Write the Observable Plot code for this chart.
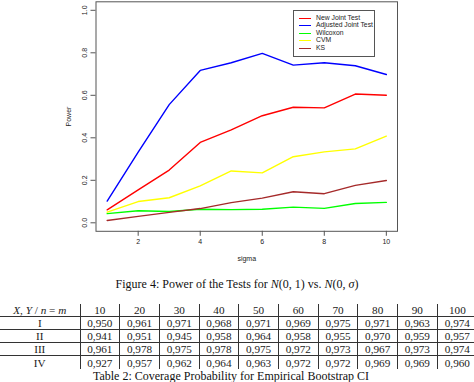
<!DOCTYPE html>
<html>
<head>
<meta charset="utf-8">
<script src="https://cdn.jsdelivr.net/npm/d3@7"></script>
<script src="https://cdn.jsdelivr.net/npm/@observablehq/plot@0.6"></script>
<style>
  html, body { margin: 0; padding: 0; background: #fff; }
  #wrap { position: relative; width: 474px; height: 382px; overflow: hidden; }
  #chart svg { display: block; }
  #legend { position: absolute; left: 292.5px; top: 9.5px; width: 80px; height: 45px;
            border: 1px solid #555; font-family: "Liberation Sans", Arial, sans-serif; font-size: 6.8px; color: #222; }
  .li { position: absolute; left: 0; height: 8px; }
  .li .sw { position: absolute; left: 5px; width: 12px; height: 0; border-top: 1.2px solid; }
  .li .lt { position: absolute; left: 22.5px; white-space: nowrap; line-height: 8px; top: -4px; }
  #figcap { position: absolute; top: 277px; left: 0; width: 474px; text-align: center; line-height: 14px;
            font-family: "Liberation Serif", "Times New Roman", serif; font-size: 12px; color: #111; }
  #tbl { position: absolute; top: 303.5px; left: 0; border-collapse: collapse;
         font-family: "Liberation Serif", "Times New Roman", serif; font-size: 11.2px; color: #222; table-layout: fixed; }
  #tbl td { padding: 0; height: 12px; line-height: 12px; text-align: center; border-left: 1px solid #333; overflow: hidden; white-space: nowrap; }
  #tbl td:first-child { border-left: none; }
  #tbl tr.h td { height: 12.5px; line-height: 12.5px; border-bottom: 1px solid #333; }
  #tbl tr.r td { border-bottom: 1px solid #333; }
  #tbl tr.last td { border-bottom: none; height: 13px; }
  #tabcap { position: absolute; top: 369.5px; left: 0; width: 462px; text-align: center; line-height: 12px;
            font-family: "Liberation Serif", "Times New Roman", serif; font-size: 12px; color: #111; }
</style>
</head>
<body>
<div id="wrap">
  <div id="chart"></div>
  <div id="legend"></div>
  <div id="figcap">Figure 4: Power of the Tests for <i>N</i>(0, 1) vs. <i>N</i>(0, <i>σ</i>)</div>
  <table id="tbl"></table>
  <div id="tabcap">Table 2: Coverage Probability for Empirical Bootstrap CI</div>
</div>
<script>
// ---- chart data ----
const sigma = [1, 2, 3, 4, 5, 6, 7, 8, 9, 10];
const newJoint = [0.061, 0.155, 0.248, 0.378, 0.437, 0.504, 0.544, 0.541, 0.606, 0.600];
const adjustedJoint = [0.102, 0.333, 0.556, 0.717, 0.753, 0.797, 0.742, 0.753, 0.739, 0.698];
const wilcoxon = [0.043, 0.057, 0.053, 0.064, 0.062, 0.064, 0.074, 0.068, 0.091, 0.096];
const cvm = [0.050, 0.100, 0.118, 0.174, 0.244, 0.235, 0.311, 0.334, 0.348, 0.408];
const ks = [0.011, 0.030, 0.049, 0.067, 0.095, 0.116, 0.146, 0.137, 0.176, 0.199];
const seriesNames = ["New Joint Test", "Adjusted Joint Test", "Wilcoxon", "CVM", "KS"];
const seriesColors = ["#ff0000", "#0000ff", "#00ff00", "#ffff00", "#a52a2a"];
const xTicks = [2, 4, 6, 8, 10];
const yTicks = [0, 0.2, 0.4, 0.6, 0.8, 1.0];

// ---- table data ----
const tableHeader = "<i>X</i>, <i>Y</i> / <i>n</i> = <i>m</i>";
const sampleSizes = [10, 20, 30, 40, 50, 60, 70, 80, 90, 100];
const rowLabels = ["I", "II", "III", "IV"];
const rowI = [0.950, 0.961, 0.971, 0.968, 0.971, 0.969, 0.975, 0.971, 0.963, 0.974];
const rowII = [0.941, 0.951, 0.945, 0.958, 0.964, 0.958, 0.955, 0.970, 0.959, 0.957];
const rowIII = [0.961, 0.978, 0.975, 0.978, 0.975, 0.972, 0.973, 0.967, 0.973, 0.974];
const rowIV = [0.927, 0.957, 0.962, 0.964, 0.963, 0.972, 0.972, 0.969, 0.969, 0.960];

const allSeries = [newJoint, adjustedJoint, wilcoxon, cvm, ks];
const rows = [];
allSeries.forEach((vals, i) => vals.forEach((v, j) => rows.push({sigma: sigma[j], power: v, series: seriesNames[i]})));

const font = "Liberation Sans, Arial, sans-serif";
const chart = Plot.plot({
  width: 474,
  height: 268,
  marginLeft: 95.5,
  marginRight: 77,
  marginTop: 1.3,
  marginBottom: 37.2,
  style: {fontFamily: font, fontSize: "7px", color: "#222", background: "#fff"},
  x: {domain: [0.64, 10.36]},
  y: {domain: [-0.04, 1.04]},
  color: {domain: seriesNames, range: seriesColors},
  marks: [
    Plot.axisX({ticks: xTicks, tickSize: 5, tickPadding: 3, label: null, stroke: "#555", fontSize: 7}),
    Plot.axisY({ticks: yTicks, tickSize: 5, tickFormat: () => "", label: null, stroke: "#555"}),
    Plot.text(yTicks, {y: d => d, text: d => d.toFixed(1), frameAnchor: "left", dx: -11.5, rotate: -90,
                       textAnchor: "middle", lineAnchor: "middle", fontSize: 7, fill: "#222"}),
    Plot.text(["Power"], {text: d => d, frameAnchor: "left", dx: -27.5, rotate: -90, textAnchor: "middle",
                          lineAnchor: "middle", fontSize: 7, fill: "#222"}),
    Plot.text(["sigma"], {text: d => d, frameAnchor: "bottom", dy: 27, textAnchor: "middle",
                          lineAnchor: "middle", fontSize: 7, fill: "#222"}),
    Plot.line(rows, {x: "sigma", y: "power", z: "series", stroke: "series", strokeWidth: 1.4}),
    Plot.frame({stroke: "#555", strokeWidth: 1})
  ]
});
document.getElementById("chart").appendChild(chart);

// legend
const legend = document.getElementById("legend");
seriesNames.forEach((name, i) => {
  const item = document.createElement("div");
  item.className = "li";
  item.style.top = (7 + i * 7.6) + "px";
  item.innerHTML = `<div class="sw" style="border-color:${seriesColors[i]}"></div><div class="lt">${name}</div>`;
  legend.appendChild(item);
});

// table
const tbl = document.getElementById("tbl");
const colW = [80].concat(sampleSizes.map(() => 39.7));
const cg = document.createElement("colgroup");
colW.forEach(w => { const c = document.createElement("col"); c.style.width = w + "px"; cg.appendChild(c); });
tbl.appendChild(cg);
tbl.style.width = colW.reduce((a, b) => a + b, 0) + "px";
const fmt = v => v.toFixed(3).replace(".", ",");
let html = `<tr class="h"><td>${tableHeader}</td>` + sampleSizes.map(n => `<td>${n}</td>`).join("") + "</tr>";
[rowI, rowII, rowIII, rowIV].forEach((r, i) => {
  html += `<tr class="${i === 3 ? "last" : "r"}"><td>${rowLabels[i]}</td>` + r.map(v => `<td>${fmt(v)}</td>`).join("") + "</tr>";
});
tbl.insertAdjacentHTML("beforeend", html);
</script>
</body>
</html>
